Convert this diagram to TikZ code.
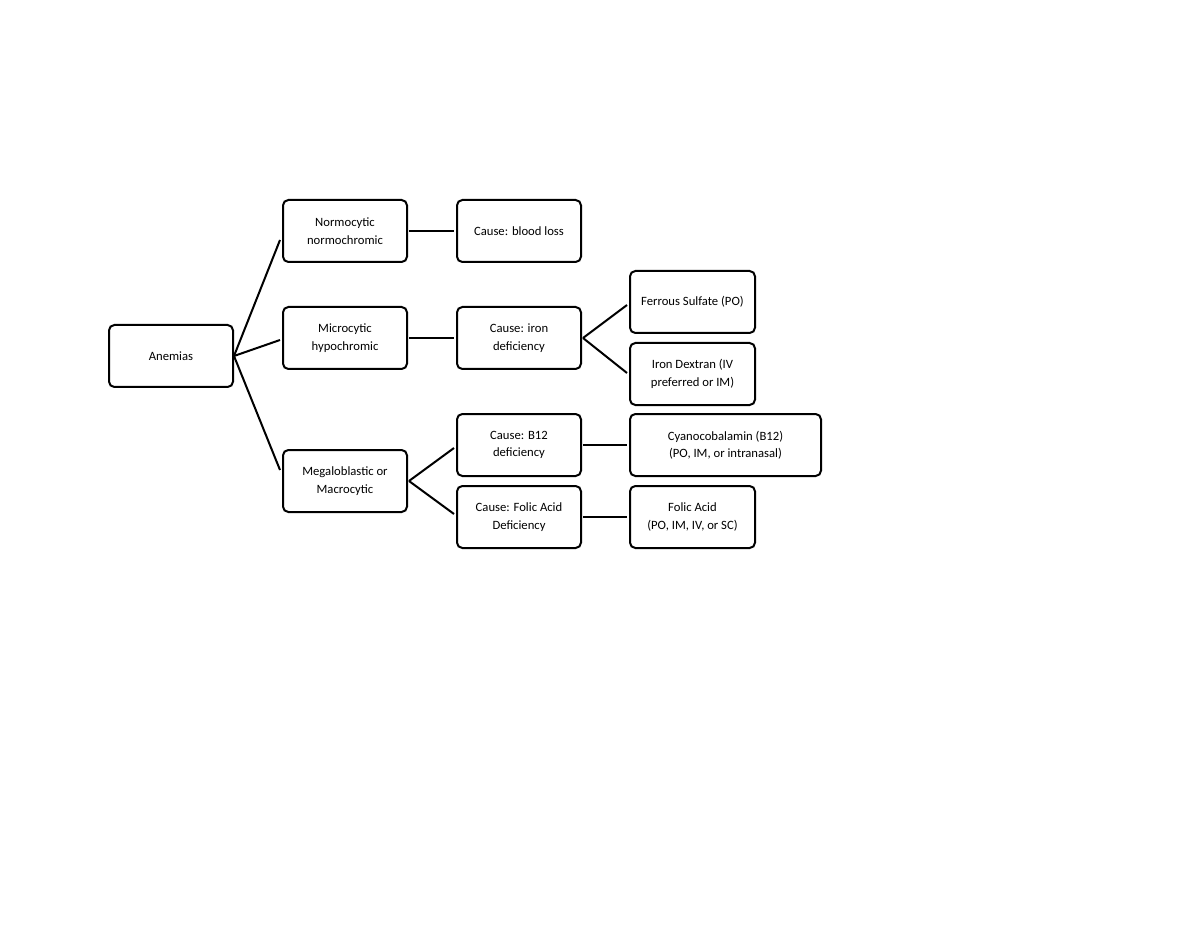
\documentclass[tikz,border=0pt]{standalone}
\usepackage{fontspec}
\setmainfont{Carlito}
\begin{document}
\begin{tikzpicture}[x=0.75pt,y=-0.75pt,
 bx/.style={draw,line width=1.5pt,rounded corners=4pt,align=center,font=\fontsize{9.5}{13}\selectfont,inner sep=0pt},
 ln/.style={line width=1.5pt}]
\useasboundingbox (0,0) rectangle (1200,927);
\newcommand{\bxat}[6]{\node[bx,minimum width={(#4-#2)*0.75pt},minimum height={(#5-#3)*0.75pt}] (#1) at ({(#2+#4)/2},{(#3+#5)/2}) {#6};}
\bxat{an}{109}{325}{233}{387}{Anemias}
\bxat{no}{283}{200}{407}{262}{Normocytic\\normochromic}
\bxat{mi}{283}{307}{407}{369}{Microcytic\\hypochromic}
\bxat{me}{283}{450}{407}{512}{Megaloblastic or\\Macrocytic}
\bxat{bl}{457}{200}{581}{262}{Cause: blood loss}
\bxat{ir}{457}{307}{581}{369}{Cause: iron\\deficiency}
\bxat{b12}{457}{414}{581}{476}{Cause: B12\\deficiency}
\bxat{fo}{457}{486}{581}{548}{Cause: Folic Acid\\Deficiency}
\bxat{fe}{630}{271}{755}{333}{Ferrous Sulfate (PO)}
\bxat{dx}{630}{343}{755}{405}{Iron Dextran (IV\\preferred or IM)}
\bxat{cy}{630}{414}{821}{476}{Cyanocobalamin (B12)\\(PO, IM, or intranasal)}
\bxat{fa}{630}{486}{755}{548}{Folic Acid\\(PO, IM, IV, or SC)}
\coordinate (c1) at (280,240); \coordinate (c2) at (280,340); \coordinate (c3) at (280,470);
\draw[ln] (an.east) -- (c1); \draw[ln] (an.east) -- (c2); \draw[ln] (an.east) -- (c3);
\coordinate (d1) at (409,231); \coordinate (d2) at (454,231);
\draw[ln] (d1) -- (d2);
\coordinate (e1) at (409,338); \coordinate (e2) at (454,338);
\draw[ln] (e1) -- (e2);
\coordinate (f0) at (583,338); \coordinate (f1) at (627,305); \coordinate (f2) at (627,373);
\draw[ln] (f0) -- (f1); \draw[ln] (f0) -- (f2);
\coordinate (g0) at (409,481); \coordinate (g1) at (454,448); \coordinate (g2) at (454,514);
\draw[ln] (g0) -- (g1); \draw[ln] (g0) -- (g2);
\coordinate (h1) at (583,445); \coordinate (h2) at (627,445);
\draw[ln] (h1) -- (h2);
\coordinate (k1) at (583,517); \coordinate (k2) at (627,517);
\draw[ln] (k1) -- (k2);
\end{tikzpicture}
\end{document}
